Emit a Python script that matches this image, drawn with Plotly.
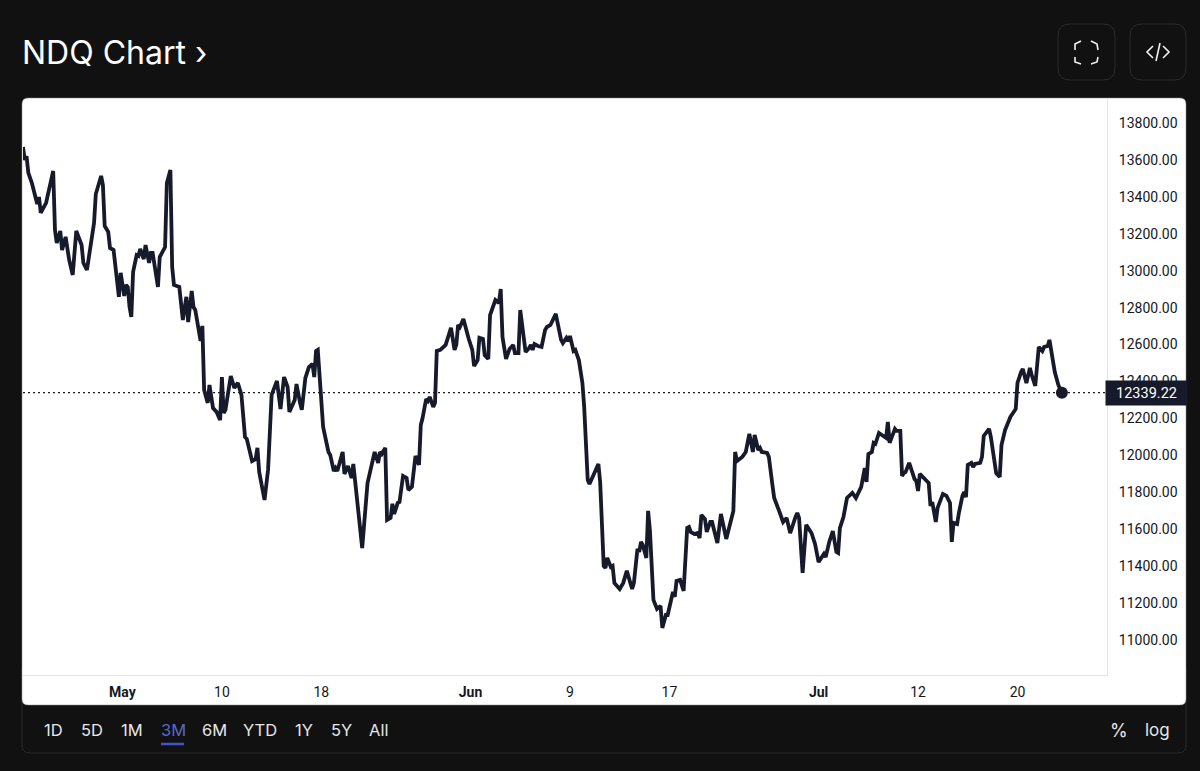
import plotly.graph_objects as go

# Session bar index (7 bars per trading day) and NDQ closing value
bars = [0,1,2,3,5,6,8,9,10,13,15,17,18,19,21,22,24,26,28,30,33,34,36,38,40,41,44,45,46,48,49,51,54,55,57,58,59,60,61,62,64,65,66,68,69,71,72,73,75,76,77,80,81,83,84,85,88,90,92,93,95,96,97,99,100,101,102,104,105,107,109,111,112,113,114,117,119,121,123,125,126,129,131,132,133,136,138,140,143,145,147,149,150,153,154,156,157,159,161,163,164,165,166,169,172,173,175,176,177,180,181,183,185,186,191,194,198,200,201,202,204,205,207,208,209,211,212,214,216,217,219,221,223,224,225,227,228,229,231,232,233,235,238,241,243,244,245,246,248,251,253,254,256,257,259,260,262,263,266,268,269,270,272,274,276,277,279,280,283,285,286,287,288,290,292,294,295,297,300,303,304,306,307,308,310,311,313,315,316,318,319,324,325,327,328,329,331,332,333,336,338,340,343,344,346,347,348,349,351,352,353,355,357,359,360,362,363,366,367,368,370,372,374,375,376,378,380,381,382,384,385,387,388,391,393,396,400,401,402,405,407,409,411,412,414,415,416,419,420,422,423,426,428,430,432,435,436,437,439,441,444,446,448,451,452,454,456,458,459,460,462,464,467,469,472,474,475,476,478,479,480,482,484,486,487,488,491,492,494,495,496,497,499,502,503,504,505,510,511,512,514,515,518,520,522,523,524,526,527,529,530,531,532,534,535,536,539,540,541,544,545,547,548,550,551,553,555,556,559,560,562,563,565,567,568,570,572,574,575,577,578,579,581,583,585]
closes = [13670,13600,13620,13530,13475,13437,13361,13400,13313,13367,13464,13540,13220,13150,13215,13112,13183,13058,12977,13215,13139,13042,13004,13123,13258,13415,13513,13464,13242,13210,13123,13112,12858,12988,12863,12923,12912,12803,12749,12993,13085,13080,13118,13063,13139,13042,13096,13096,12966,12912,13074,13128,13475,13545,13020,12923,12912,12733,12858,12722,12890,12803,12787,12652,12619,12701,12354,12284,12381,12256,12235,12191,12424,12229,12246,12430,12365,12392,12327,12099,12089,11969,11980,12040,11910,11758,11921,12327,12403,12251,12424,12370,12235,12300,12386,12284,12246,12419,12478,12495,12424,12565,12571,12154,12018,12002,11915,11931,11915,12018,11899,11942,11877,11953,11498,11850,12018,11959,12018,12007,12040,11650,11661,11737,11682,11742,11747,11888,11877,11812,11829,11996,11948,12164,12202,12305,12294,12316,12262,12284,12565,12571,12598,12690,12571,12598,12706,12695,12738,12630,12571,12484,12516,12636,12630,12543,12522,12760,12841,12825,12901,12641,12522,12576,12598,12554,12554,12787,12560,12581,12598,12571,12603,12592,12587,12679,12695,12706,12766,12625,12608,12636,12619,12646,12565,12571,12516,12392,12262,11866,11845,11953,11856,11401,11390,11444,11395,11401,11309,11276,11309,11374,11276,11309,11493,11477,11531,11514,11444,11699,11596,11217,11168,11184,11065,11135,11135,11260,11233,11319,11325,11265,11607,11612,11585,11574,11580,11552,11677,11655,11585,11639,11639,11525,11682,11547,11699,12018,11969,11991,12018,12116,12018,12110,12029,12040,12018,12013,11991,11839,11769,11693,11639,11661,11579,11666,11688,11661,11363,11623,11579,11520,11422,11466,11449,11531,11590,11477,11471,11607,11666,11769,11796,11769,11829,11931,11856,12007,12018,12067,12062,12121,12110,12094,12181,12067,12143,12132,12132,11888,11904,11910,11959,11872,11861,11807,11899,11850,11726,11747,11639,11715,11791,11780,11742,11531,11634,11628,11688,11780,11801,11774,11948,11959,11937,11953,11959,11991,12105,12143,12099,11959,11904,11883,12056,12137,12181,12208,12251,12392,12451,12468,12392,12473,12435,12376,12587,12565,12587,12592,12625,12560,12451,12381,12339.22]
last_price = 12339.22
y_ticks = [11000,11200,11400,11600,11800,12000,12200,12400,12600,12800,13000,13200,13400,13600,13800]
x_tick_bars = [56,112,168,252,308,364,448,504,560]
x_tick_text = ["<b>May</b>","10","18","<b>Jun</b>","9","17","<b>Jul</b>","12","20"]
range_buttons = ["1D","5D","1M","3M","6M","YTD","1Y","5Y","All"]
range_centers = [53,92,132,173,214,260,304,341,378]

W, H = 1200, 771
L, R, T, B = 23, 1107, 99, 675
DARK = "#161a2b"
BG = "#111112"
FONT = "Roboto, Arial, sans-serif"
UI = "Inter, Arial, sans-serif"

def fx(p): return (p - L) / (R - L)
def fy(p): return (B - p) / (B - T)

def rrect(x0, y0, x1, y1, r, fill=None, line=None, width=1, layer="below"):
    path = (f"M {fx(x0+r)},{fy(y0)} L {fx(x1-r)},{fy(y0)} Q {fx(x1)},{fy(y0)} {fx(x1)},{fy(y0+r)} "
            f"L {fx(x1)},{fy(y1-r)} Q {fx(x1)},{fy(y1)} {fx(x1-r)},{fy(y1)} "
            f"L {fx(x0+r)},{fy(y1)} Q {fx(x0)},{fy(y1)} {fx(x0)},{fy(y1-r)} "
            f"L {fx(x0)},{fy(y0+r)} Q {fx(x0)},{fy(y0)} {fx(x0+r)},{fy(y0)} Z")
    return dict(type="path", xref="paper", yref="paper", path=path, layer=layer,
                fillcolor=fill or "rgba(0,0,0,0)",
                line=dict(color=line or "rgba(0,0,0,0)", width=width))

def seg(points, color="#f2f2f2", width=1.6):
    path = "M " + " L ".join(f"{fx(a)},{fy(b)}" for a, b in points)
    return dict(type="path", xref="paper", yref="paper", path=path, layer="above",
                line=dict(color=color, width=width))

def label(px, py, text, size=16.5, color="#e6e6e6", family=UI, xanchor="center"):
    return dict(xref="paper", yref="paper", x=fx(px), y=fy(py), text=text, showarrow=False,
                xanchor=xanchor, yanchor="middle", font=dict(size=size, color=color, family=family))

shapes = [
    rrect(22, 660, 1186, 753, 8, fill=BG, line="#2b2b2f", width=1),
    rrect(22, 98, 1186, 705, 6, fill="#ffffff", line="#8a8a8a", width=0.5),
    rrect(1058, 24, 1115, 80, 12, fill=BG, line="#2b2b2f", width=1),
    rrect(1130, 24, 1186, 80, 12, fill=BG, line="#2b2b2f", width=1),
    seg([(1075, 50), (1075, 44), (1081, 41)]), seg([(1091, 41), (1097, 44), (1098, 50)]),
    seg([(1075, 57), (1075, 62), (1081, 64)]), seg([(1091, 64), (1097, 62), (1098, 57)]),
    seg([(1153, 46), (1147, 52), (1153, 58)]), seg([(1163, 46), (1169, 52), (1163, 58)]),
    seg([(1160, 43), (1156, 61)]),
    seg([(161, 744), (184, 744)], color="#3f55c9", width=2.5),
]

annotations = [label(20, 53, "NDQ Chart ›", size=32, color="#ffffff", xanchor="left")]
for name, cx in zip(range_buttons, range_centers):
    annotations.append(label(cx, 730, name, color="#5868c9" if name == "3M" else "#e6e6e6"))
annotations.append(label(1119, 730, "%", size=18))
annotations.append(label(1157, 730, "log", size=17))
annotations.append(dict(xref="paper", yref="y", x=fx(1146.5), y=last_price, text=f"{last_price:.2f}",
                        showarrow=False, xanchor="center", yanchor="middle", bgcolor=DARK,
                        width=79, height=22, font=dict(size=14.5, color="#ffffff", family=FONT)))

fig = go.Figure()
fig.add_trace(go.Scatter(x=[0, 611], y=[last_price, last_price], mode="lines",
                         line=dict(color=DARK, width=1.3, dash="2px,3px"), hoverinfo="skip"))
fig.add_trace(go.Scatter(x=bars, y=closes, mode="lines",
                         line=dict(color=DARK, width=3.8), hoverinfo="skip"))
fig.add_trace(go.Scatter(x=bars[-1:], y=closes[-1:], mode="markers",
                         marker=dict(color=DARK, size=12), hoverinfo="skip"))

fig.update_layout(
    width=W, height=H, paper_bgcolor=BG, plot_bgcolor="rgba(0,0,0,0)", showlegend=False,
    margin=dict(l=L, r=W - R, t=T, b=H - B, pad=0), shapes=shapes, annotations=annotations,
    xaxis=dict(range=[0, 610.4], tickvals=x_tick_bars, ticktext=x_tick_text, showgrid=False,
               zeroline=False, showline=True, linecolor="#e3e5ea", linewidth=1,
               ticks="outside", ticklen=4, tickcolor="rgba(0,0,0,0)",
               tickfont=dict(size=14, color="#131722", family=FONT)),
    yaxis=dict(range=[10810, 13930], side="right", tickvals=y_ticks, tickformat=".2f", showgrid=False,
               zeroline=False, showline=True, linecolor="#e3e5ea", linewidth=1,
               ticks="outside", ticklen=8, tickcolor="rgba(0,0,0,0)",
               tickfont=dict(size=14, color="#131722", family=FONT)),
)
fig.write_html("out.html", post_script="document.body.style.margin='0';", config={"displayModeBar": False})
